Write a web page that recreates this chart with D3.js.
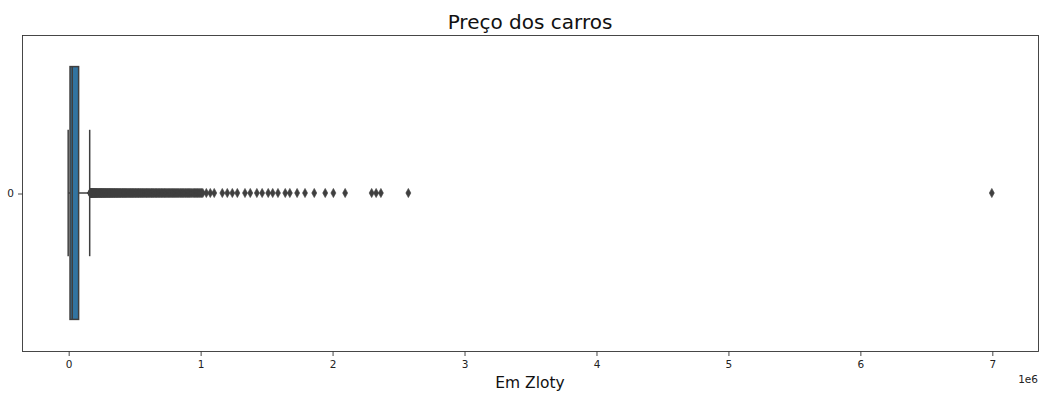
<!DOCTYPE html>
<html>
<head>
<meta charset="utf-8">
<script src="https://cdn.jsdelivr.net/npm/d3@7"></script>
<style>
  html, body { margin: 0; padding: 0; background: #fff; }
  text { font-family: "DejaVu Sans", sans-serif; }
</style>
</head>
<body>
<svg id="chart" width="1048" height="397"></svg>
<script>
// ---- data ----
const categories = ["0"];
const boxStats = { whiskerLow: 0, q1: 14000, median: 31000, q3: 79000, whiskerHigh: 163000 };
const denseOutliers = [
  165000, 167000, 168000, 170000, 172000, 174000, 175000, 177000, 179000, 181000,
  183000, 185000, 187000, 189000, 190000, 193000, 195000, 197000, 199000, 202000,
  204000, 207000, 209000, 211000, 213000, 216000, 218000, 221000, 224000, 226000,
  229000, 232000, 235000, 238000, 240000, 243000, 246000, 249000, 251000, 254000,
  257000, 260000, 263000, 266000, 268000, 272000, 275000, 278000, 281000, 284000,
  287000, 291000, 294000, 297000, 300000, 304000, 307000, 310000, 313000, 317000,
  320000, 324000, 327000, 331000, 334000, 338000, 341000, 345000, 349000, 352000,
  356000, 360000, 364000, 368000, 371000, 375000, 379000, 383000, 387000, 391000,
  395000, 399000, 403000, 408000, 412000, 416000, 420000, 425000, 429000, 433000,
  437000, 442000, 446000, 451000, 455000, 460000, 464000, 469000, 473000,
  478000, 482000, 487000, 491000, 496000, 500000, 505000, 510000, 514000, 519000,
  524000, 529000, 533000, 538000, 543000, 548000, 553000, 558000, 563000, 568000,
  573000, 578000, 584000, 589000, 594000, 599000, 604000, 609000, 615000, 620000,
  626000, 631000, 636000, 641000, 647000, 652000, 658000, 663000, 669000, 674000,
  680000, 686000, 691000, 697000, 703000, 708000, 714000, 720000, 726000, 731000,
  737000, 743000, 749000, 755000, 761000, 767000, 773000, 779000, 785000, 791000,
  797000, 803000, 809000, 815000, 821000, 828000, 834000, 840000, 847000, 853000,
  859000, 866000, 872000, 878000, 885000, 891000, 898000, 904000, 911000, 917000,
  923000, 930000, 937000, 945000, 952000, 958000, 965000, 972000, 979000, 985000,
  992000, 999000, 1006000, 1012000, 1020000
];
const sparseOutliers = [
  1047000, 1077000, 1107000, 1168000, 1206000, 1244000, 1282000, 1340000, 1380000,
  1430000, 1470000, 1516000, 1550000, 1590000, 1645000, 1680000, 1735000, 1795000,
  1865000, 1948000, 2010000, 2099000, 2300000, 2334000, 2370000, 2578000, 7000000
];
const xTicks = [0, 1e6, 2e6, 3e6, 4e6, 5e6, 6e6, 7e6];
const xTickLabels = ["0", "1", "2", "3", "4", "5", "6", "7"];
const titleText = "Preço dos carros";
const xLabelText = "Em Zloty";
const offsetText = "1e6";

// ---- layout ----
const svg = d3.select("#chart");
const L = 22, R = 1038, T = 35, B = 351;
const lineColor = "#3f3f3f";
const boxFill = "#3274a1";

const x = d3.scaleLinear().domain([-0.35e6, 7.35e6]).range([L, R]);
const y = d3.scaleLinear().domain([-0.5, 0.5]).range([T, B]);
const yc = y(0);

const g = svg.append("g");
// whiskers
g.append("line").attr("x1", x(boxStats.whiskerLow)).attr("x2", x(boxStats.q1))
  .attr("y1", yc).attr("y2", yc).attr("stroke", lineColor).attr("stroke-width", 1.5);
g.append("line").attr("x1", x(boxStats.q3)).attr("x2", x(boxStats.whiskerHigh))
  .attr("y1", yc).attr("y2", yc).attr("stroke", lineColor).attr("stroke-width", 1.5);
// caps
[boxStats.whiskerLow, boxStats.whiskerHigh].forEach(v => {
  g.append("line").attr("x1", x(v)).attr("x2", x(v))
    .attr("y1", y(-0.2)).attr("y2", y(0.2)).attr("stroke", lineColor).attr("stroke-width", 1.5);
});
// box rect
g.append("rect").attr("x", x(boxStats.q1)).attr("width", x(boxStats.q3) - x(boxStats.q1))
  .attr("y", y(-0.4)).attr("height", y(0.4) - y(-0.4))
  .attr("fill", boxFill).attr("stroke", lineColor).attr("stroke-width", 1.5);
// median
g.append("line").attr("x1", x(boxStats.median)).attr("x2", x(boxStats.median))
  .attr("y1", y(-0.4)).attr("y2", y(0.4)).attr("stroke", lineColor).attr("stroke-width", 1.5);

// fliers (thin diamonds)
const dw = 2.5, dh = 4.6;
const diamond = `M0,${-dh}L${dw},0L0,${dh}L${-dw},0Z`;
g.selectAll("path.flier").data(denseOutliers.concat(sparseOutliers)).join("path")
  .attr("class", "flier")
  .attr("d", diamond)
  .attr("transform", d => `translate(${x(d)},${yc})`)
  .attr("fill", lineColor).attr("stroke", lineColor).attr("stroke-width", 0.6);

// frame
svg.append("rect").attr("x", L + 0.5).attr("y", T + 0.5).attr("width", R - L).attr("height", B - T)
  .attr("fill", "none").attr("stroke", "#333").attr("stroke-width", 0.9);

// x axis
const xAxis = d3.axisBottom(x).tickValues(xTicks).tickFormat((d, i) => xTickLabels[i])
  .tickSize(4.5).tickPadding(5);
const xg = svg.append("g").attr("transform", `translate(0.5,${B + 0.5})`).call(xAxis);
xg.select(".domain").remove();
xg.selectAll("line").attr("stroke", "#333").attr("stroke-width", 0.9);
xg.selectAll("text").attr("font-size", 10.5).attr("fill", "#222").attr("font-family", "DejaVu Sans");

// y axis
const yAxis = d3.axisLeft(d3.scalePoint().domain(categories).range([yc, yc]))
  .tickSize(4.5).tickPadding(4);
const yg = svg.append("g").attr("transform", `translate(${L + 0.5},0.5)`).call(yAxis);
yg.select(".domain").remove();
yg.selectAll("line").attr("stroke", "#333").attr("stroke-width", 0.9);
yg.selectAll("text").attr("font-size", 10.5).attr("fill", "#222").attr("font-family", "DejaVu Sans");

// texts
svg.append("text").attr("x", (L + R) / 2).attr("y", 29).attr("text-anchor", "middle")
  .attr("font-size", 20).attr("fill", "#111").text(titleText);
svg.append("text").attr("x", (L + R) / 2).attr("y", 388).attr("text-anchor", "middle")
  .attr("font-size", 15.5).attr("fill", "#111").text(xLabelText);
svg.append("text").attr("x", R).attr("y", 383).attr("text-anchor", "end")
  .attr("font-size", 10.5).attr("fill", "#222").text(offsetText);
</script>
</body>
</html>
